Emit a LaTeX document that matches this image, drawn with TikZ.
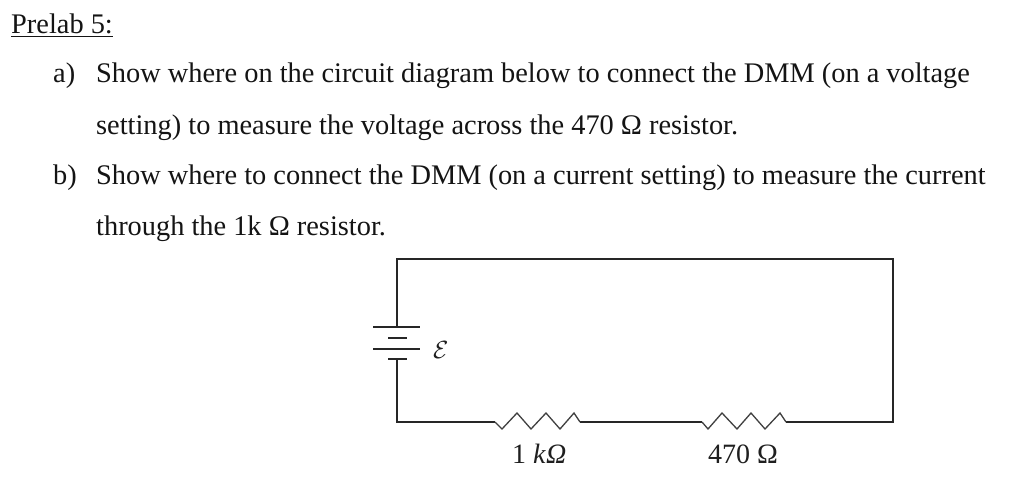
\documentclass[tikz,border=0pt]{standalone}
\usepackage{fontspec}
\setmainfont{Liberation Serif}
\tikzset{
 wire/.style={draw=black!85,line width=1.7pt,line join=miter},
 zig/.style={draw=black!75,line width=1.3pt,line join=miter},
 txt/.style={anchor=base west,inner sep=0pt,font=\fontsize{28.37pt}{32pt}\selectfont,text=black!92},
 lab/.style={anchor=base west,inner sep=0pt,font=\fontsize{28pt}{32pt}\selectfont,text=black!88}}
\begin{document}
\begin{tikzpicture}[x=1pt,y=-1pt]
\useasboundingbox[fill=white] (0,0) rectangle (1024,484);
\node[txt] (t0) at (11,34) {\underline{Prelab 5:}};
\node[txt] (a) at (53,83) {a)};
\node[txt] (a1) at (96,83) {Show where on the circuit diagram below to connect the DMM (on a voltage};
\node[txt] (a2) at (96,134) {setting) to measure the voltage across the 470 Ω resistor.};
\node[txt] (b) at (53,184) {b)};
\node[txt] (b1) at (96,184) {Show where to connect the DMM (on a current setting) to measure the current};
\node[txt] (b2) at (96,235) {through the 1k Ω resistor.};
\coordinate (tl) at (397,259);
\coordinate (tr) at (893,259);
\coordinate (br) at (893,422);
\coordinate (bl) at (397,422);
\coordinate (bt) at (397,327);
\coordinate (bb) at (397,359);
\coordinate (r1a) at (495,422);
\coordinate (r1b) at (580,422);
\coordinate (r2a) at (702,422);
\coordinate (r2b) at (786,422);
\draw[wire] (bt) -- (tl) -- (tr) -- (br) -- (r2b);
\draw[wire] (r2a) -- (r1b);
\draw[wire] (r1a) -- (bl) -- (bb);
\draw[zig] (r1a) -- (502,429) -- (517,413) -- (531,429) -- (546,413) -- (560,429) -- (574,413) -- (r1b);
\draw[zig] (r2a) -- (708,429) -- (722,413) -- (737,429) -- (751,413) -- (765,429) -- (780,413) -- (r2b);
\coordinate (p1a) at (373,327); \coordinate (p1b) at (420,327);
\coordinate (p2a) at (388,338); \coordinate (p2b) at (407,338);
\coordinate (p3a) at (373,349); \coordinate (p3b) at (420,349);
\coordinate (p4a) at (388,359); \coordinate (p4b) at (407,359);
\draw[wire] (p1a) -- (p1b);
\draw[wire] (p2a) -- (p2b);
\draw[wire] (p3a) -- (p3b);
\draw[wire] (p4a) -- (p4b);
\node[lab] (e) at (433,358) {$\mathcal{E}$};
\node[lab] (r1) at (512,463) {1 \textit{k}\textit{Ω}};
\node[lab] (r2) at (708,463) {470 Ω};
\end{tikzpicture}
\end{document}
